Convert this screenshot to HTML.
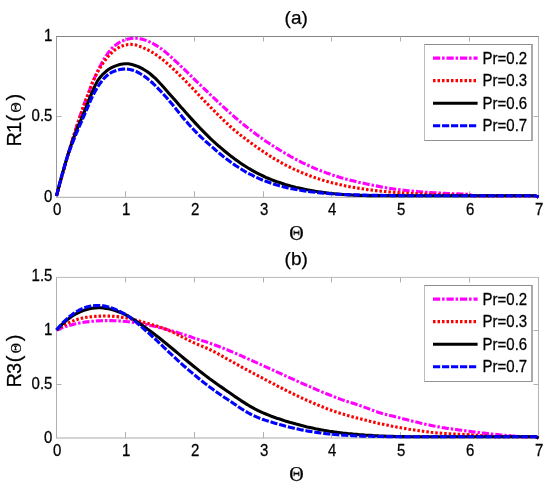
<!DOCTYPE html>
<html><head><meta charset="utf-8"><title>Figure</title>
<style>
html,body{margin:0;padding:0;background:#fff;}
svg{display:block;}
text{fill:#000;stroke:#000;stroke-width:0.25px;}
path{fill:none;}
.t{font-family:"Liberation Sans",Arial,sans-serif;font-size:15px;}
.g{font-family:"Liberation Sans",Arial,sans-serif;font-size:15px;}
.L{font-family:"Liberation Sans",Arial,sans-serif;font-size:20px;}
.S{font-family:"Liberation Serif","Times New Roman",serif;font-size:20px;}
.s{font-family:"Liberation Serif","Times New Roman",serif;font-size:14px;}
</style></head>
<body>
<svg width="550" height="485" viewBox="0 0 550 485">
<rect width="550" height="485" fill="#fff"/>
<rect x="56.5" y="36.5" width="482.0" height="160.8" fill="#fff"/>
<path d="M56.0,36.5H539.0" stroke="#858585"/>
<path d="M56.5,36.5V197.3" stroke="#999999"/>
<path d="M538.5,36.5V197.8" stroke="#b4b4b4"/>
<path d="M56.0,197.3H539.0" stroke="#a8a8a8"/>
<text transform="translate(57.2,215.0) scale(1,1.07)" text-anchor="middle" class="t">0</text>
<text transform="translate(126.2,215.0) scale(1,1.07)" text-anchor="middle" class="t">1</text>
<text transform="translate(195.2,215.0) scale(1,1.07)" text-anchor="middle" class="t">2</text>
<text transform="translate(264.2,215.0) scale(1,1.07)" text-anchor="middle" class="t">3</text>
<text transform="translate(332.2,215.0) scale(1,1.07)" text-anchor="middle" class="t">4</text>
<text transform="translate(401.2,215.0) scale(1,1.07)" text-anchor="middle" class="t">5</text>
<text transform="translate(470.2,215.0) scale(1,1.07)" text-anchor="middle" class="t">6</text>
<text transform="translate(539.2,215.0) scale(1,1.07)" text-anchor="middle" class="t">7</text>
<text transform="translate(52.4,201.9) scale(1,1.07)" text-anchor="end" class="t">0</text>
<text transform="translate(52.4,121.2) scale(1,1.07)" text-anchor="end" class="t">0.5</text>
<text transform="translate(52.4,40.5) scale(1,1.07)" text-anchor="end" class="t">1</text>
<path d="M125.5,197.3v-6M125.5,36.5v5M194.5,197.3v-6M194.5,36.5v5M263.5,197.3v-6M263.5,36.5v5M331.5,197.3v-6M331.5,36.5v5M400.5,197.3v-6M400.5,36.5v5M469.5,197.3v-6M469.5,36.5v5M56.5,116.5h5M538.5,116.5h-5" stroke="#b0b0b0" fill="none"/>
<path d="M56.5,195.8 L59.3,185.7 L62.0,175.6 L64.8,165.8 L67.5,156.2 L70.3,146.8 L73.0,137.8 L75.8,129.0 L78.5,120.6 L81.3,112.4 L84.0,104.6 L86.8,97.2 L89.6,90.1 L92.3,83.2 L95.1,76.6 L97.8,70.6 L100.6,65.2 L103.3,60.3 L106.1,55.8 L108.8,51.9 L111.6,48.6 L114.3,46.0 L117.1,43.9 L119.8,42.2 L122.6,40.9 L125.4,39.8 L128.1,39.0 L130.9,38.5 L133.6,38.2 L136.4,38.3 L139.1,38.6 L141.9,39.1 L144.6,39.9 L147.4,40.9 L150.1,42.1 L152.9,43.5 L155.7,45.1 L158.4,46.8 L161.2,48.7 L163.9,50.8 L166.7,53.1 L169.4,55.5 L172.2,58.0 L174.9,60.6 L177.7,63.2 L180.4,65.8 L183.2,68.4 L186.0,71.0 L188.7,73.7 L191.5,76.4 L194.2,79.1 L197.0,81.8 L199.7,84.5 L202.5,87.1 L205.2,89.7 L208.0,92.4 L210.7,95.0 L213.5,97.6 L216.2,100.2 L219.0,102.8 L221.8,105.4 L224.5,107.9 L227.3,110.5 L230.0,112.9 L232.8,115.4 L235.5,117.8 L238.3,120.1 L241.0,122.5 L243.8,124.7 L246.5,126.9 L249.3,129.1 L252.1,131.2 L254.8,133.3 L257.6,135.3 L260.3,137.3 L263.1,139.3 L265.8,141.2 L268.6,143.0 L271.3,144.8 L274.1,146.6 L276.8,148.3 L279.6,150.0 L282.4,151.6 L285.1,153.3 L287.9,154.9 L290.6,156.5 L293.4,158.0 L296.1,159.5 L298.9,160.9 L301.6,162.3 L304.4,163.6 L307.1,164.9 L309.9,166.2 L312.6,167.4 L315.4,168.6 L318.2,169.7 L320.9,170.8 L323.7,171.8 L326.4,172.9 L329.2,173.8 L331.9,174.8 L334.7,175.7 L337.4,176.6 L340.2,177.4 L342.9,178.2 L345.7,179.0 L348.5,179.7 L351.2,180.4 L354.0,181.1 L356.7,181.8 L359.5,182.4 L362.2,183.0 L365.0,183.6 L367.7,184.2 L370.5,184.8 L373.2,185.3 L376.0,185.9 L378.8,186.4 L381.5,186.9 L384.3,187.4 L387.0,187.9 L389.8,188.4 L392.5,188.8 L395.3,189.2 L398.0,189.6 L400.8,189.9 L403.5,190.2 L406.3,190.5 L409.0,190.8 L411.8,191.0 L414.6,191.3 L417.3,191.5 L420.1,191.7 L422.8,192.0 L425.6,192.2 L428.3,192.4 L431.1,192.5 L433.8,192.7 L436.6,192.9 L439.3,193.0 L442.1,193.2 L444.9,193.3 L447.6,193.5 L450.4,193.6 L453.1,193.7 L455.9,193.8 L458.6,193.9 L461.4,194.0 L464.1,194.1 L466.9,194.2 L469.6,194.3 L472.4,195.8 L475.2,195.8 L477.9,195.8 L480.7,195.8 L483.4,195.8 L486.2,195.8 L488.9,195.8 L491.7,195.8 L494.4,195.8 L497.2,195.8 L499.9,195.8 L502.7,195.8 L505.4,195.8 L508.2,195.8 L511.0,195.8 L513.7,195.8 L516.5,195.8 L519.2,195.8 L522.0,195.8 L524.7,195.8 L527.5,195.8 L530.2,195.8 L533.0,195.8 L535.7,195.8 L538.5,197.2" fill="none" stroke="#ff00ff" stroke-width="3.1" stroke-linejoin="round" stroke-dasharray="7.2 1.9 2.5 1.9"/>
<path d="M56.5,195.8 L59.3,185.8 L62.0,175.9 L64.8,166.1 L67.5,156.6 L70.3,147.3 L73.0,138.2 L75.8,129.5 L78.5,121.2 L81.3,113.0 L84.0,105.2 L86.8,97.7 L89.6,90.3 L92.3,82.9 L95.1,76.8 L97.8,71.6 L100.6,66.9 L103.3,62.7 L106.1,58.9 L108.8,55.7 L111.6,52.8 L114.3,50.4 L117.1,48.5 L119.8,46.9 L122.6,45.8 L125.4,45.0 L128.1,44.5 L130.9,44.4 L133.6,44.6 L136.4,45.1 L139.1,46.1 L141.9,47.2 L144.6,48.4 L147.4,49.7 L150.1,51.1 L152.9,52.7 L155.7,54.5 L158.4,56.4 L161.2,58.4 L163.9,60.6 L166.7,63.0 L169.4,65.4 L172.2,67.9 L174.9,70.5 L177.7,73.2 L180.4,75.9 L183.2,78.7 L186.0,81.5 L188.7,84.3 L191.5,87.2 L194.2,90.1 L197.0,93.0 L199.7,95.9 L202.5,98.8 L205.2,101.7 L208.0,104.5 L210.7,107.4 L213.5,110.2 L216.2,113.0 L219.0,115.7 L221.8,118.4 L224.5,121.1 L227.3,123.7 L230.0,126.3 L232.8,128.7 L235.5,131.1 L238.3,133.3 L241.0,135.5 L243.8,137.6 L246.5,139.7 L249.3,141.8 L252.1,143.8 L254.8,145.8 L257.6,147.7 L260.3,149.6 L263.1,151.5 L265.8,153.3 L268.6,155.1 L271.3,156.9 L274.1,158.6 L276.8,160.2 L279.6,161.8 L282.4,163.3 L285.1,164.8 L287.9,166.2 L290.6,167.5 L293.4,168.9 L296.1,170.1 L298.9,171.3 L301.6,172.5 L304.4,173.6 L307.1,174.7 L309.9,175.8 L312.6,176.8 L315.4,177.8 L318.2,178.7 L320.9,179.6 L323.7,180.4 L326.4,181.2 L329.2,182.0 L331.9,182.7 L334.7,183.4 L337.4,184.1 L340.2,184.7 L342.9,185.3 L345.7,185.9 L348.5,186.4 L351.2,187.0 L354.0,187.4 L356.7,187.9 L359.5,188.4 L362.2,188.8 L365.0,189.2 L367.7,189.6 L370.5,189.9 L373.2,190.3 L376.0,190.6 L378.8,190.9 L381.5,191.2 L384.3,191.5 L387.0,191.7 L389.8,192.0 L392.5,192.2 L395.3,192.4 L398.0,192.6 L400.8,192.8 L403.5,193.0 L406.3,193.2 L409.0,193.3 L411.8,193.5 L414.6,193.6 L417.3,193.8 L420.1,193.9 L422.8,194.0 L425.6,194.1 L428.3,194.2 L431.1,194.3 L433.8,194.4 L436.6,194.5 L439.3,194.6 L442.1,194.7 L444.9,194.7 L447.6,194.8 L450.4,194.9 L453.1,194.9 L455.9,195.0 L458.6,195.0 L461.4,195.1 L464.1,195.1 L466.9,195.2 L469.6,195.2 L472.4,195.8 L475.2,195.8 L477.9,195.8 L480.7,195.8 L483.4,195.8 L486.2,195.8 L488.9,195.8 L491.7,195.8 L494.4,195.8 L497.2,195.8 L499.9,195.8 L502.7,195.8 L505.4,195.8 L508.2,195.8 L511.0,195.8 L513.7,195.8 L516.5,195.8 L519.2,195.8 L522.0,195.8 L524.7,195.8 L527.5,195.8 L530.2,195.8 L533.0,195.8 L535.7,195.8 L538.5,197.2" fill="none" stroke="#ff0000" stroke-width="3.1" stroke-linejoin="round" stroke-dasharray="2.5 2"/>
<path d="M56.5,195.8 L59.3,185.2 L62.0,175.1 L64.8,165.3 L67.5,156.0 L70.3,147.5 L73.0,139.5 L75.8,132.1 L78.5,125.4 L81.3,119.0 L84.0,112.6 L86.8,105.6 L89.6,98.4 L92.3,91.8 L95.1,85.6 L97.8,80.4 L100.6,76.7 L103.3,73.8 L106.1,71.3 L108.8,69.3 L111.6,67.6 L114.3,66.4 L117.1,65.4 L119.8,64.5 L122.6,64.0 L125.4,63.8 L128.1,63.8 L130.9,64.3 L133.6,65.0 L136.4,65.9 L139.1,67.0 L141.9,68.4 L144.6,70.0 L147.4,71.8 L150.1,73.8 L152.9,76.2 L155.7,78.7 L158.4,81.5 L161.2,84.5 L163.9,87.5 L166.7,90.7 L169.4,93.9 L172.2,97.0 L174.9,100.1 L177.7,103.3 L180.4,106.4 L183.2,109.5 L186.0,112.7 L188.7,115.8 L191.5,118.9 L194.2,121.9 L197.0,124.9 L199.7,127.8 L202.5,130.7 L205.2,133.4 L208.0,136.1 L210.7,138.8 L213.5,141.3 L216.2,143.8 L219.0,146.3 L221.8,148.6 L224.5,151.0 L227.3,153.2 L230.0,155.4 L232.8,157.5 L235.5,159.6 L238.3,161.5 L241.0,163.4 L243.8,165.3 L246.5,167.0 L249.3,168.7 L252.1,170.3 L254.8,171.8 L257.6,173.3 L260.3,174.7 L263.1,176.0 L265.8,177.3 L268.6,178.5 L271.3,179.6 L274.1,180.7 L276.8,181.7 L279.6,182.6 L282.4,183.5 L285.1,184.4 L287.9,185.2 L290.6,186.0 L293.4,186.7 L296.1,187.4 L298.9,188.0 L301.6,188.6 L304.4,189.2 L307.1,189.8 L309.9,190.3 L312.6,190.8 L315.4,191.3 L318.2,191.7 L320.9,192.1 L323.7,192.5 L326.4,192.9 L329.2,193.2 L331.9,193.5 L334.7,193.8 L337.4,194.0 L340.2,194.3 L342.9,194.5 L345.7,194.7 L348.5,194.9 L351.2,195.0 L354.0,195.2 L356.7,195.3 L359.5,195.4 L362.2,195.5 L365.0,195.5 L367.7,195.6 L370.5,195.6 L373.2,195.6 L376.0,195.6 L378.8,195.6 L381.5,195.6 L384.3,195.6 L387.0,195.6 L389.8,195.6 L392.5,195.6 L395.3,195.6 L398.0,195.6 L400.8,195.7 L403.5,195.7 L406.3,195.7 L409.0,195.7 L411.8,195.7 L414.6,195.7 L417.3,195.8 L420.1,195.8 L422.8,195.8 L425.6,195.8 L428.3,195.8 L431.1,195.8 L433.8,195.8 L436.6,195.8 L439.3,195.8 L442.1,195.8 L444.9,195.8 L447.6,195.8 L450.4,195.8 L453.1,195.8 L455.9,195.8 L458.6,195.8 L461.4,195.8 L464.1,195.8 L466.9,195.8 L469.6,195.8 L472.4,195.8 L475.2,195.8 L477.9,195.8 L480.7,195.8 L483.4,195.8 L486.2,195.8 L488.9,195.8 L491.7,195.8 L494.4,195.8 L497.2,195.8 L499.9,195.8 L502.7,195.8 L505.4,195.8 L508.2,195.8 L511.0,195.8 L513.7,195.8 L516.5,195.8 L519.2,195.8 L522.0,195.8 L524.7,195.8 L527.5,195.8 L530.2,195.8 L533.0,195.8 L535.7,195.8 L538.5,197.2" fill="none" stroke="#000000" stroke-width="3.1" stroke-linejoin="round"/>
<path d="M56.5,195.8 L59.3,185.0 L62.0,174.8 L64.8,165.3 L67.5,156.3 L70.3,148.6 L73.0,141.7 L75.8,134.7 L78.5,128.3 L81.3,122.1 L84.0,115.8 L86.8,109.3 L89.6,102.8 L92.3,96.7 L95.1,91.4 L97.8,86.8 L100.6,82.7 L103.3,79.1 L106.1,76.3 L108.8,74.1 L111.6,72.4 L114.3,71.2 L117.1,70.2 L119.8,69.5 L122.6,69.1 L125.4,69.0 L128.1,69.2 L130.9,69.7 L133.6,70.5 L136.4,71.6 L139.1,73.0 L141.9,74.7 L144.6,76.5 L147.4,78.6 L150.1,80.9 L152.9,83.3 L155.7,86.0 L158.4,88.8 L161.2,91.7 L163.9,94.7 L166.7,97.8 L169.4,101.0 L172.2,104.2 L174.9,107.6 L177.7,111.1 L180.4,114.5 L183.2,117.9 L186.0,121.2 L188.7,124.3 L191.5,127.3 L194.2,130.2 L197.0,133.1 L199.7,135.8 L202.5,138.5 L205.2,141.0 L208.0,143.4 L210.7,145.8 L213.5,148.1 L216.2,150.6 L219.0,153.0 L221.8,155.3 L224.5,157.5 L227.3,159.6 L230.0,161.6 L232.8,163.6 L235.5,165.5 L238.3,167.3 L241.0,169.0 L243.8,170.7 L246.5,172.3 L249.3,173.8 L252.1,175.2 L254.8,176.6 L257.6,177.9 L260.3,179.1 L263.1,180.3 L265.8,181.3 L268.6,182.3 L271.3,183.3 L274.1,184.2 L276.8,185.0 L279.6,185.8 L282.4,186.5 L285.1,187.2 L287.9,187.9 L290.6,188.5 L293.4,189.0 L296.1,189.5 L298.9,190.0 L301.6,190.5 L304.4,190.9 L307.1,191.3 L309.9,191.7 L312.6,192.0 L315.4,192.3 L318.2,192.6 L320.9,192.9 L323.7,193.1 L326.4,193.3 L329.2,193.6 L331.9,193.8 L334.7,193.9 L337.4,194.1 L340.2,194.2 L342.9,194.4 L345.7,194.5 L348.5,194.6 L351.2,194.7 L354.0,194.8 L356.7,194.9 L359.5,195.0 L362.2,195.1 L365.0,195.1 L367.7,195.2 L370.5,195.3 L373.2,195.3 L376.0,195.4 L378.8,195.4 L381.5,195.4 L384.3,195.5 L387.0,195.5 L389.8,195.5 L392.5,195.6 L395.3,195.6 L398.0,195.6 L400.8,195.6 L403.5,195.6 L406.3,195.7 L409.0,195.7 L411.8,195.7 L414.6,195.7 L417.3,195.7 L420.1,195.7 L422.8,195.7 L425.6,195.7 L428.3,195.7 L431.1,195.8 L433.8,195.8 L436.6,195.8 L439.3,195.8 L442.1,195.8 L444.9,195.8 L447.6,195.8 L450.4,195.8 L453.1,195.8 L455.9,195.8 L458.6,195.8 L461.4,195.8 L464.1,195.8 L466.9,195.8 L469.6,195.8 L472.4,195.8 L475.2,195.8 L477.9,195.8 L480.7,195.8 L483.4,195.8 L486.2,195.8 L488.9,195.8 L491.7,195.8 L494.4,195.8 L497.2,195.8 L499.9,195.8 L502.7,195.8 L505.4,195.8 L508.2,195.8 L511.0,195.8 L513.7,195.8 L516.5,195.8 L519.2,195.8 L522.0,195.8 L524.7,195.8 L527.5,195.8 L530.2,195.8 L533.0,195.8 L535.7,195.8 L538.5,197.2" fill="none" stroke="#0000ff" stroke-width="3.1" stroke-linejoin="round" stroke-dasharray="7.2 1.8"/>
<text x="296.2" y="24.0" text-anchor="middle" class="L" style="font-size:19px">(a)</text>
<text x="296.4" y="240.0" text-anchor="middle" class="S">Θ</text>
<text transform="translate(21.4,145.5) rotate(-90)" class="L" x="-1.0 12.4 24.1 33.1 45.1">R1(<tspan class="s">Θ</tspan>)</text>
<rect x="424.5" y="44.5" width="107.5" height="96" fill="#fff"/>
<path d="M424,44.5H533" stroke="#8c8c8c"/>
<path d="M424,140.5H533" stroke="#929292"/>
<path d="M424.5,44.5V140.5" stroke="#bdbdbd"/>
<path d="M532,44.5V140.5" stroke="#ababab" stroke-width="2"/>
<path d="M433,58.10H477.6" stroke="#ff00ff" stroke-width="3.1" fill="none" stroke-dasharray="7.2 1.9 2.5 1.9"/>
<text transform="translate(482.6,63.50) scale(1,1.07)" class="g">Pr=0.2</text>
<path d="M433,80.65H477.6" stroke="#ff0000" stroke-width="3.1" fill="none" stroke-dasharray="2.5 2"/>
<text transform="translate(482.6,86.05) scale(1,1.07)" class="g">Pr=0.3</text>
<path d="M433,103.20H477.6" stroke="#000000" stroke-width="3.1" fill="none"/>
<text transform="translate(482.6,108.60) scale(1,1.07)" class="g">Pr=0.6</text>
<path d="M433,125.75H477.6" stroke="#0000ff" stroke-width="3.1" fill="none" stroke-dasharray="7.2 1.8"/>
<text transform="translate(482.6,131.15) scale(1,1.07)" class="g">Pr=0.7</text>
<rect x="56.5" y="277.4" width="482.0" height="160.60000000000002" fill="#fff"/>
<path d="M56.0,277.4H539.0" stroke="#b8b8b8"/>
<path d="M56.5,277.4V438.0" stroke="#b0b0b0"/>
<path d="M538.5,277.4V438.5" stroke="#b4b4b4"/>
<path d="M56.0,438.0H539.0" stroke="#a8a8a8"/>
<text transform="translate(57.2,455.7) scale(1,1.07)" text-anchor="middle" class="t">0</text>
<text transform="translate(126.2,455.7) scale(1,1.07)" text-anchor="middle" class="t">1</text>
<text transform="translate(195.2,455.7) scale(1,1.07)" text-anchor="middle" class="t">2</text>
<text transform="translate(264.2,455.7) scale(1,1.07)" text-anchor="middle" class="t">3</text>
<text transform="translate(332.2,455.7) scale(1,1.07)" text-anchor="middle" class="t">4</text>
<text transform="translate(401.2,455.7) scale(1,1.07)" text-anchor="middle" class="t">5</text>
<text transform="translate(470.2,455.7) scale(1,1.07)" text-anchor="middle" class="t">6</text>
<text transform="translate(539.2,455.7) scale(1,1.07)" text-anchor="middle" class="t">7</text>
<text transform="translate(52.4,442.8) scale(1,1.07)" text-anchor="end" class="t">0</text>
<text transform="translate(52.4,388.8) scale(1,1.07)" text-anchor="end" class="t">0.5</text>
<text transform="translate(52.4,335.4) scale(1,1.07)" text-anchor="end" class="t">1</text>
<text transform="translate(52.4,281.4) scale(1,1.07)" text-anchor="end" class="t">1.5</text>
<path d="M125.5,438.0v-6M125.5,277.4v5M194.5,438.0v-6M194.5,277.4v5M263.5,438.0v-6M263.5,277.4v5M331.5,438.0v-6M331.5,277.4v5M400.5,438.0v-6M400.5,277.4v5M469.5,438.0v-6M469.5,277.4v5M56.5,384.5h5M538.5,384.5h-5M56.5,330.5h5M538.5,330.5h-5" stroke="#b0b0b0" fill="none"/>
<path d="M56.5,330.0 L59.3,328.9 L62.0,327.8 L64.8,326.9 L67.5,326.0 L70.3,325.2 L73.0,324.4 L75.8,323.8 L78.5,323.2 L81.3,322.7 L84.0,322.3 L86.8,321.9 L89.6,321.6 L92.3,321.3 L95.1,321.1 L97.8,320.9 L100.6,320.7 L103.3,320.6 L106.1,320.6 L108.8,320.6 L111.6,320.6 L114.3,320.7 L117.1,320.8 L119.8,321.0 L122.6,321.2 L125.4,321.5 L128.1,321.8 L130.9,322.1 L133.6,322.5 L136.4,322.9 L139.1,323.3 L141.9,323.8 L144.6,324.3 L147.4,324.8 L150.1,325.4 L152.9,326.0 L155.7,326.6 L158.4,327.3 L161.2,328.0 L163.9,328.7 L166.7,329.4 L169.4,330.2 L172.2,331.0 L174.9,331.8 L177.7,332.6 L180.4,333.5 L183.2,334.3 L186.0,335.3 L188.7,336.2 L191.5,337.1 L194.2,338.1 L197.0,339.1 L199.7,339.9 L202.5,340.8 L205.2,341.6 L208.0,342.5 L210.7,343.5 L213.5,344.5 L216.2,345.5 L219.0,346.5 L221.8,347.6 L224.5,348.7 L227.3,349.8 L230.0,351.0 L232.8,352.2 L235.5,353.3 L238.3,354.5 L241.0,355.7 L243.8,357.0 L246.5,358.2 L249.3,359.4 L252.1,360.6 L254.8,361.9 L257.6,363.1 L260.3,364.3 L263.1,365.6 L265.8,366.8 L268.6,368.1 L271.3,369.3 L274.1,370.6 L276.8,371.9 L279.6,373.1 L282.4,374.4 L285.1,375.7 L287.9,376.9 L290.6,378.2 L293.4,379.4 L296.1,380.6 L298.9,381.9 L301.6,383.1 L304.4,384.3 L307.1,385.5 L309.9,386.7 L312.6,387.9 L315.4,389.1 L318.2,390.3 L320.9,391.4 L323.7,392.6 L326.4,393.7 L329.2,394.8 L331.9,395.9 L334.7,397.0 L337.4,398.1 L340.2,399.1 L342.9,400.1 L345.7,401.0 L348.5,401.9 L351.2,402.7 L354.0,403.6 L356.7,404.5 L359.5,405.4 L362.2,406.4 L365.0,407.4 L367.7,408.4 L370.5,409.5 L373.2,410.5 L376.0,411.5 L378.8,412.4 L381.5,413.2 L384.3,414.0 L387.0,414.7 L389.8,415.4 L392.5,416.1 L395.3,416.8 L398.0,417.5 L400.8,418.2 L403.5,418.9 L406.3,419.6 L409.0,420.3 L411.8,421.0 L414.6,421.7 L417.3,422.3 L420.1,423.0 L422.8,423.6 L425.6,424.2 L428.3,424.8 L431.1,425.4 L433.8,426.0 L436.6,426.5 L439.3,427.0 L442.1,427.5 L444.9,427.9 L447.6,428.4 L450.4,428.8 L453.1,429.1 L455.9,429.5 L458.6,429.9 L461.4,430.2 L464.1,430.6 L466.9,431.0 L469.6,431.3 L472.4,431.7 L475.2,432.1 L477.9,432.4 L480.7,432.8 L483.4,433.1 L486.2,433.4 L488.9,433.7 L491.7,434.0 L494.4,434.3 L497.2,434.6 L499.9,434.9 L502.7,435.1 L505.4,435.4 L508.2,435.6 L511.0,435.9 L513.7,436.1 L516.5,436.3 L519.2,436.5 L522.0,436.7 L524.7,436.7 L527.5,436.7 L530.2,436.7 L533.0,436.7 L535.7,436.7 L538.5,438.1" fill="none" stroke="#ff00ff" stroke-width="3.1" stroke-linejoin="round" stroke-dasharray="7.2 1.9 2.5 1.9"/>
<path d="M56.5,330.0 L59.3,328.1 L62.0,326.4 L64.8,324.8 L67.5,323.4 L70.3,322.1 L73.0,320.9 L75.8,319.9 L78.5,319.0 L81.3,318.3 L84.0,317.8 L86.8,317.3 L89.6,316.9 L92.3,316.7 L95.1,316.4 L97.8,316.3 L100.6,316.1 L103.3,316.0 L106.1,316.0 L108.8,316.1 L111.6,316.2 L114.3,316.4 L117.1,316.6 L119.8,317.0 L122.6,317.4 L125.4,317.8 L128.1,318.4 L130.9,319.0 L133.6,319.6 L136.4,320.3 L139.1,321.0 L141.9,321.8 L144.6,322.6 L147.4,323.3 L150.1,324.1 L152.9,324.9 L155.7,325.7 L158.4,326.6 L161.2,327.5 L163.9,328.4 L166.7,329.5 L169.4,330.7 L172.2,331.9 L174.9,333.2 L177.7,334.6 L180.4,336.0 L183.2,337.4 L186.0,338.9 L188.7,340.3 L191.5,341.6 L194.2,342.9 L197.0,344.1 L199.7,345.2 L202.5,346.4 L205.2,347.5 L208.0,348.7 L210.7,350.0 L213.5,351.3 L216.2,352.8 L219.0,354.3 L221.8,355.8 L224.5,357.4 L227.3,359.0 L230.0,360.5 L232.8,362.1 L235.5,363.6 L238.3,365.2 L241.0,366.7 L243.8,368.2 L246.5,369.6 L249.3,371.1 L252.1,372.6 L254.8,374.1 L257.6,375.5 L260.3,377.0 L263.1,378.4 L265.8,379.9 L268.6,381.3 L271.3,382.8 L274.1,384.2 L276.8,385.7 L279.6,387.1 L282.4,388.5 L285.1,389.9 L287.9,391.3 L290.6,392.7 L293.4,394.0 L296.1,395.3 L298.9,396.6 L301.6,397.9 L304.4,399.2 L307.1,400.4 L309.9,401.6 L312.6,402.8 L315.4,404.0 L318.2,405.2 L320.9,406.3 L323.7,407.4 L326.4,408.5 L329.2,409.5 L331.9,410.5 L334.7,411.5 L337.4,412.4 L340.2,413.3 L342.9,414.1 L345.7,414.9 L348.5,415.7 L351.2,416.5 L354.0,417.2 L356.7,417.9 L359.5,418.6 L362.2,419.3 L365.0,420.0 L367.7,420.7 L370.5,421.4 L373.2,422.1 L376.0,422.7 L378.8,423.4 L381.5,424.0 L384.3,424.6 L387.0,425.1 L389.8,425.7 L392.5,426.3 L395.3,426.8 L398.0,427.3 L400.8,427.8 L403.5,428.3 L406.3,428.7 L409.0,429.2 L411.8,429.6 L414.6,430.0 L417.3,430.5 L420.1,430.8 L422.8,431.2 L425.6,431.6 L428.3,431.9 L431.1,432.3 L433.8,432.6 L436.6,432.9 L439.3,433.1 L442.1,433.3 L444.9,433.5 L447.6,433.7 L450.4,433.8 L453.1,434.0 L455.9,434.1 L458.6,434.2 L461.4,434.3 L464.1,434.5 L466.9,434.6 L469.6,434.8 L472.4,435.0 L475.2,435.2 L477.9,435.4 L480.7,435.6 L483.4,435.9 L486.2,436.1 L488.9,436.3 L491.7,436.4 L494.4,436.6 L497.2,436.6 L499.9,436.7 L502.7,436.7 L505.4,436.7 L508.2,436.7 L511.0,436.7 L513.7,436.7 L516.5,436.7 L519.2,436.7 L522.0,436.7 L524.7,436.7 L527.5,436.7 L530.2,436.7 L533.0,436.7 L535.7,436.7 L538.5,438.1" fill="none" stroke="#ff0000" stroke-width="3.1" stroke-linejoin="round" stroke-dasharray="2.5 2"/>
<path d="M56.5,330.0 L59.3,327.1 L62.0,324.3 L64.8,321.8 L67.5,319.5 L70.3,317.4 L73.0,315.5 L75.8,313.9 L78.5,312.5 L81.3,311.3 L84.0,310.2 L86.8,309.4 L89.6,308.8 L92.3,308.3 L95.1,308.0 L97.8,307.8 L100.6,307.8 L103.3,308.0 L106.1,308.4 L108.8,308.8 L111.6,309.5 L114.3,310.3 L117.1,311.2 L119.8,312.2 L122.6,313.4 L125.4,314.7 L128.1,316.2 L130.9,317.8 L133.6,319.5 L136.4,321.3 L139.1,323.2 L141.9,325.1 L144.6,327.1 L147.4,329.0 L150.1,331.0 L152.9,333.1 L155.7,335.2 L158.4,337.3 L161.2,339.5 L163.9,341.7 L166.7,344.0 L169.4,346.2 L172.2,348.5 L174.9,350.8 L177.7,353.1 L180.4,355.4 L183.2,357.7 L186.0,360.0 L188.7,362.2 L191.5,364.5 L194.2,366.7 L197.0,368.9 L199.7,371.1 L202.5,373.3 L205.2,375.4 L208.0,377.5 L210.7,379.6 L213.5,381.6 L216.2,383.5 L219.0,385.5 L221.8,387.4 L224.5,389.3 L227.3,391.2 L230.0,393.1 L232.8,395.0 L235.5,396.9 L238.3,398.7 L241.0,400.6 L243.8,402.4 L246.5,404.1 L249.3,405.8 L252.1,407.4 L254.8,408.9 L257.6,410.3 L260.3,411.6 L263.1,412.9 L265.8,414.0 L268.6,415.1 L271.3,416.2 L274.1,417.2 L276.8,418.2 L279.6,419.1 L282.4,420.0 L285.1,420.9 L287.9,421.7 L290.6,422.6 L293.4,423.3 L296.1,424.1 L298.9,424.8 L301.6,425.5 L304.4,426.2 L307.1,426.9 L309.9,427.5 L312.6,428.1 L315.4,428.7 L318.2,429.2 L320.9,429.8 L323.7,430.3 L326.4,430.7 L329.2,431.2 L331.9,431.6 L334.7,432.0 L337.4,432.4 L340.2,432.7 L342.9,433.1 L345.7,433.4 L348.5,433.7 L351.2,433.9 L354.0,434.2 L356.7,434.4 L359.5,434.7 L362.2,434.9 L365.0,435.1 L367.7,435.2 L370.5,435.4 L373.2,435.6 L376.0,435.7 L378.8,435.9 L381.5,436.0 L384.3,436.1 L387.0,436.2 L389.8,436.3 L392.5,436.4 L395.3,436.5 L398.0,436.5 L400.8,436.6 L403.5,436.6 L406.3,436.7 L409.0,436.7 L411.8,436.7 L414.6,436.7 L417.3,436.7 L420.1,436.7 L422.8,436.7 L425.6,436.7 L428.3,436.7 L431.1,436.7 L433.8,436.7 L436.6,436.7 L439.3,436.7 L442.1,436.7 L444.9,436.7 L447.6,436.7 L450.4,436.7 L453.1,436.7 L455.9,436.7 L458.6,436.7 L461.4,436.7 L464.1,436.7 L466.9,436.7 L469.6,436.7 L472.4,436.7 L475.2,436.7 L477.9,436.7 L480.7,436.7 L483.4,436.7 L486.2,436.7 L488.9,436.7 L491.7,436.7 L494.4,436.7 L497.2,436.7 L499.9,436.7 L502.7,436.7 L505.4,436.7 L508.2,436.7 L511.0,436.7 L513.7,436.7 L516.5,436.7 L519.2,436.7 L522.0,436.7 L524.7,436.7 L527.5,436.7 L530.2,436.7 L533.0,436.7 L535.7,436.7 L538.5,438.1" fill="none" stroke="#000000" stroke-width="3.1" stroke-linejoin="round"/>
<path d="M56.5,330.0 L59.3,326.7 L62.0,323.6 L64.8,320.8 L67.5,318.3 L70.3,315.9 L73.0,313.9 L75.8,312.0 L78.5,310.5 L81.3,309.1 L84.0,307.9 L86.8,307.0 L89.6,306.3 L92.3,305.8 L95.1,305.6 L97.8,305.5 L100.6,305.6 L103.3,305.9 L106.1,306.4 L108.8,307.1 L111.6,307.9 L114.3,308.9 L117.1,310.1 L119.8,311.4 L122.6,312.8 L125.4,314.4 L128.1,316.1 L130.9,318.1 L133.6,320.2 L136.4,322.4 L139.1,324.7 L141.9,327.1 L144.6,329.6 L147.4,332.0 L150.1,334.4 L152.9,337.0 L155.7,339.5 L158.4,342.1 L161.2,344.7 L163.9,347.3 L166.7,349.9 L169.4,352.6 L172.2,355.2 L174.9,357.7 L177.7,360.3 L180.4,362.8 L183.2,365.3 L186.0,367.7 L188.7,370.1 L191.5,372.4 L194.2,374.7 L197.0,377.0 L199.7,379.2 L202.5,381.5 L205.2,383.6 L208.0,385.7 L210.7,387.8 L213.5,389.8 L216.2,391.8 L219.0,393.7 L221.8,395.6 L224.5,397.5 L227.3,399.3 L230.0,401.1 L232.8,402.9 L235.5,404.8 L238.3,406.7 L241.0,408.5 L243.8,410.3 L246.5,411.9 L249.3,413.5 L252.1,414.9 L254.8,416.2 L257.6,417.4 L260.3,418.5 L263.1,419.5 L265.8,420.4 L268.6,421.3 L271.3,422.1 L274.1,422.9 L276.8,423.7 L279.6,424.4 L282.4,425.2 L285.1,426.0 L287.9,426.7 L290.6,427.4 L293.4,428.1 L296.1,428.7 L298.9,429.3 L301.6,429.9 L304.4,430.4 L307.1,430.9 L309.9,431.4 L312.6,431.8 L315.4,432.3 L318.2,432.6 L320.9,433.0 L323.7,433.4 L326.4,433.7 L329.2,434.0 L331.9,434.2 L334.7,434.5 L337.4,434.7 L340.2,434.9 L342.9,435.1 L345.7,435.3 L348.5,435.5 L351.2,435.6 L354.0,435.8 L356.7,435.9 L359.5,436.0 L362.2,436.1 L365.0,436.2 L367.7,436.3 L370.5,436.3 L373.2,436.4 L376.0,436.4 L378.8,436.5 L381.5,436.5 L384.3,436.6 L387.0,436.6 L389.8,436.6 L392.5,436.7 L395.3,436.7 L398.0,436.7 L400.8,436.7 L403.5,436.7 L406.3,436.7 L409.0,436.7 L411.8,436.7 L414.6,436.7 L417.3,436.7 L420.1,436.7 L422.8,436.7 L425.6,436.7 L428.3,436.7 L431.1,436.7 L433.8,436.7 L436.6,436.7 L439.3,436.7 L442.1,436.7 L444.9,436.7 L447.6,436.7 L450.4,436.7 L453.1,436.7 L455.9,436.7 L458.6,436.7 L461.4,436.7 L464.1,436.7 L466.9,436.7 L469.6,436.7 L472.4,436.7 L475.2,436.7 L477.9,436.7 L480.7,436.7 L483.4,436.7 L486.2,436.7 L488.9,436.7 L491.7,436.7 L494.4,436.7 L497.2,436.7 L499.9,436.7 L502.7,436.7 L505.4,436.7 L508.2,436.7 L511.0,436.7 L513.7,436.7 L516.5,436.7 L519.2,436.7 L522.0,436.7 L524.7,436.7 L527.5,436.7 L530.2,436.7 L533.0,436.7 L535.7,436.7 L538.5,438.1" fill="none" stroke="#0000ff" stroke-width="3.1" stroke-linejoin="round" stroke-dasharray="7.2 1.8"/>
<text x="296.2" y="264.9" text-anchor="middle" class="L" style="font-size:19px">(b)</text>
<text x="296.4" y="480.9" text-anchor="middle" class="S">Θ</text>
<text transform="translate(21.4,386.4) rotate(-90)" class="L" x="-1.0 12.4 24.1 33.1 45.1">R3(<tspan class="s">Θ</tspan>)</text>
<rect x="424.5" y="285.5" width="107.5" height="96" fill="#fff"/>
<path d="M424,285.5H533" stroke="#8c8c8c"/>
<path d="M424,381.5H533" stroke="#929292"/>
<path d="M424.5,285.5V381.5" stroke="#bdbdbd"/>
<path d="M532,285.5V381.5" stroke="#ababab" stroke-width="2"/>
<path d="M433,299.10H477.6" stroke="#ff00ff" stroke-width="3.1" fill="none" stroke-dasharray="7.2 1.9 2.5 1.9"/>
<text transform="translate(482.6,304.50) scale(1,1.07)" class="g">Pr=0.2</text>
<path d="M433,321.65H477.6" stroke="#ff0000" stroke-width="3.1" fill="none" stroke-dasharray="2.5 2"/>
<text transform="translate(482.6,327.05) scale(1,1.07)" class="g">Pr=0.3</text>
<path d="M433,344.20H477.6" stroke="#000000" stroke-width="3.1" fill="none"/>
<text transform="translate(482.6,349.60) scale(1,1.07)" class="g">Pr=0.6</text>
<path d="M433,366.75H477.6" stroke="#0000ff" stroke-width="3.1" fill="none" stroke-dasharray="7.2 1.8"/>
<text transform="translate(482.6,372.15) scale(1,1.07)" class="g">Pr=0.7</text>
</svg>
</body></html>
